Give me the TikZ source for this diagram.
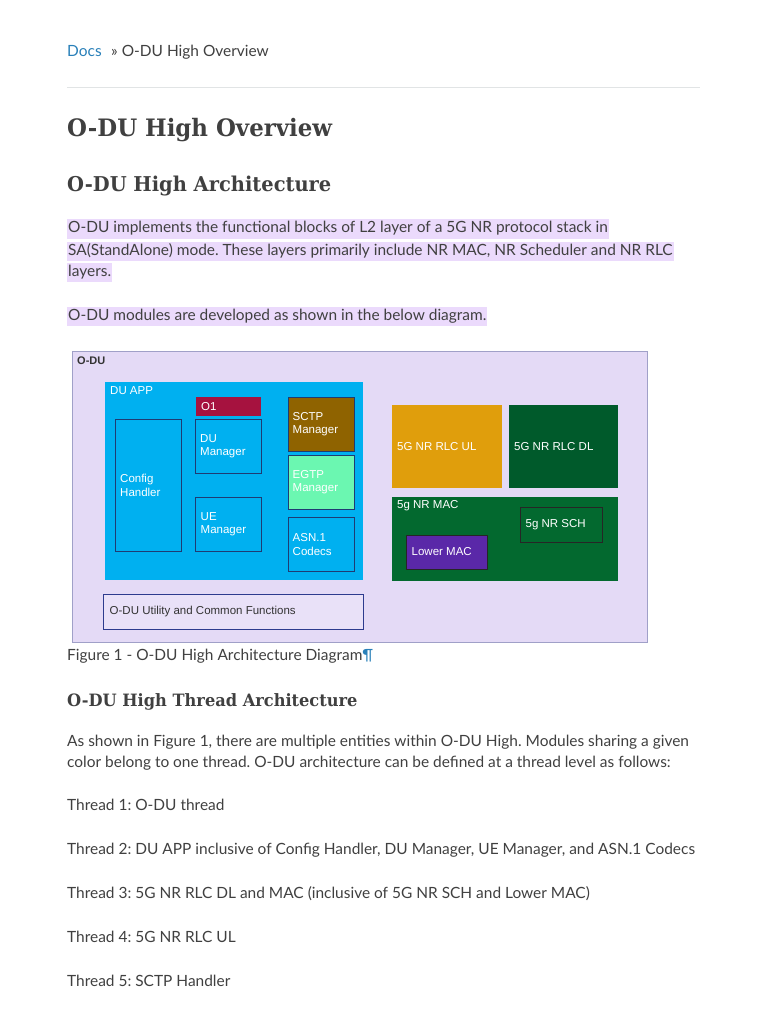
\documentclass[tikz,border=0pt]{standalone}
\usepackage{fontspec}
\setmainfont{Lato}
\newfontfamily\headfont[FakeStretch=0.953]{DejaVu Serif}
\newfontfamily\diagfont{Liberation Sans}
\definecolor{bodytext}{HTML}{404040}
\definecolor{linkblue}{HTML}{2980B9}
\definecolor{hlpurple}{HTML}{EBDAFC}
\definecolor{rulegrey}{HTML}{E1E4E5}
\definecolor{odufill}{HTML}{E4DAF6}
\definecolor{oduborder}{HTML}{A0A0C8}
\definecolor{duapp}{HTML}{00B0F0}
\definecolor{navy}{HTML}{1F3B73}
\definecolor{oone}{HTML}{A6123F}
\definecolor{sctp}{HTML}{8F6300}
\definecolor{egtp}{HTML}{6BF7B1}
\definecolor{rlcul}{HTML}{E09E0C}
\definecolor{rlcdl}{HTML}{005A2B}
\definecolor{macgreen}{HTML}{03692F}
\definecolor{lowermac}{HTML}{5A28A8}
\definecolor{utilborder}{HTML}{2D3B8E}
\tikzset{
  body/.style={anchor=base west, inner sep=0pt, text=bodytext, font=\frenchspacing\fontsize{15.45}{18}\selectfont},
  hl/.style={body, fill=hlpurple, inner xsep=1pt, inner ysep=1pt, text height=12.5pt, text depth=5pt},
  blk/.style={anchor=north west, inner sep=0pt, line width=0.8pt},
  dtext/.style={anchor=west, inner sep=0pt, align=left, text=white, font=\diagfont\fontsize{11.5}{13.3}\selectfont},
}
\begin{document}
\begin{tikzpicture}[x=1pt,y=-1pt]
\useasboundingbox[fill=white] (0,0) rectangle (768,1024);

% breadcrumb
\node[body, text=linkblue] (docs) at (67,56.5) {Docs};
\node[body] (crumb) at (111,56.5) {» O-DU High Overview};
\coordinate (rl) at (67,88);
\coordinate (rr) at (700,88);
\draw[rulegrey, line width=1pt] (rl) -- (rr);

% headings
\node[body, font=\headfont\bfseries\fontsize{24}{28}\selectfont] (h1) at (67,137) {O-DU High Overview};
\node[body, font=\headfont\bfseries\fontsize{20.4}{24}\selectfont] (h2) at (67,191.5) {O-DU High Architecture};

% highlighted paragraph
\node[hl] (p1) at (67,233) {O-DU implements the functional blocks of L2 layer of a 5G NR protocol stack in};
\node[hl] (p2) at (67,255) {SA(StandAlone) mode. These layers primarily include NR MAC, NR Scheduler and NR RLC};
\node[hl] (p3) at (67,276) {layers.};
\node[hl] (p4) at (67,320) {O-DU modules are developed as shown in the below diagram.};

% ===== diagram =====
\node[blk, draw=oduborder, fill=odufill, minimum width=575pt, minimum height=291pt] (odu) at (72,351) {};
\node[anchor=west, inner sep=0pt, text=black!80, font=\diagfont\bfseries\fontsize{11}{13}\selectfont] (odulbl) at (77,361) {O-DU};

\node[blk, fill=duapp, minimum width=258pt, minimum height=198pt] (duapp) at (105,382) {};
\node[dtext] (duapplbl) at (110,391) {DU APP};

\node[blk, fill=oone, minimum width=65pt, minimum height=19pt] (o1) at (196,397) {};
\node[dtext] (o1lbl) at (201,406.5) {O1};

\node[blk, draw=navy, fill=duapp, minimum width=66pt, minimum height=132pt] (config) at (115,419) {};
\node[dtext] (configlbl) at (120,485.5) {Config\\Handler};

\node[blk, draw=navy, fill=duapp, minimum width=66pt, minimum height=54pt] (dumgr) at (195,419) {};
\node[dtext] (dumgrlbl) at (200,446.5) {DU\\Manager};

\node[blk, draw=navy, fill=duapp, minimum width=66pt, minimum height=54pt] (uemgr) at (195,497) {};
\node[dtext] (uemgrlbl) at (200.5,524.5) {UE\\Manager};

\node[blk, draw=navy, fill=sctp, minimum width=66pt, minimum height=54pt] (sctpb) at (288,397) {};
\node[dtext] (sctplbl) at (292.5,424.5) {SCTP\\Manager};

\node[blk, draw=navy, fill=egtp, minimum width=66pt, minimum height=54pt] (egtpb) at (288,455) {};
\node[dtext] (egtplbl) at (292.5,482) {EGTP\\Manager};

\node[blk, draw=navy, fill=duapp, minimum width=66pt, minimum height=54pt] (asn) at (288,517) {};
\node[dtext] (asnlbl) at (292.5,544.5) {ASN.1\\Codecs};

\node[blk, draw=utilborder, fill=odufill!80!white, minimum width=260pt, minimum height=35pt] (util) at (103,594) {};
\node[dtext, text=black!80] (utillbl) at (109.5,611.5) {O-DU Utility and Common Functions};

\node[blk, fill=rlcul, minimum width=110pt, minimum height=83pt] (rlcul) at (392,405) {};
\node[dtext] (rlcullbl) at (397,446.5) {5G NR RLC UL};

\node[blk, fill=rlcdl, minimum width=109pt, minimum height=83pt] (rlcdl) at (509,405) {};
\node[dtext] (rlcdllbl) at (514,446.5) {5G NR RLC DL};

\node[blk, fill=macgreen, minimum width=226pt, minimum height=84pt] (mac) at (392,497) {};
\node[dtext] (maclbl) at (397,506) {5g NR MAC};

\node[blk, draw=black!85, fill=macgreen, minimum width=82pt, minimum height=35pt] (sch) at (520,507) {};
\node[dtext] (schlbl) at (525.5,524.5) {5g NR SCH};

\node[blk, draw=black!85, fill=lowermac, minimum width=81pt, minimum height=34pt] (lmac) at (406,535) {};
\node[dtext] (lmaclbl) at (411.5,552) {Lower MAC};

% caption
\node[body] (cap) at (67,660) {Figure 1 - O-DU High Architecture Diagram\textcolor{linkblue}{¶}};

\node[body, font=\headfont\bfseries\fontsize{17}{20}\selectfont] (h3) at (67,706) {O-DU High Thread Architecture};

\node[body] (q1) at (67,746) {As shown in Figure 1, there are multiple entities within O-DU High. Modules sharing a given};
\node[body] (q2) at (67,767) {color belong to one thread. O-DU architecture can be defined at a thread level as follows:};

\node[body] (t1) at (67,810) {Thread 1: O-DU thread};
\node[body] (t2) at (67,854) {Thread 2: DU APP inclusive of Config Handler, DU Manager, UE Manager, and ASN.1 Codecs};
\node[body] (t3) at (67,898) {Thread 3: 5G NR RLC DL and MAC (inclusive of 5G NR SCH and Lower MAC)};
\node[body] (t4) at (67,942) {Thread 4: 5G NR RLC UL};
\node[body] (t5) at (67,986) {Thread 5: SCTP Handler};
\end{tikzpicture}
\end{document}
